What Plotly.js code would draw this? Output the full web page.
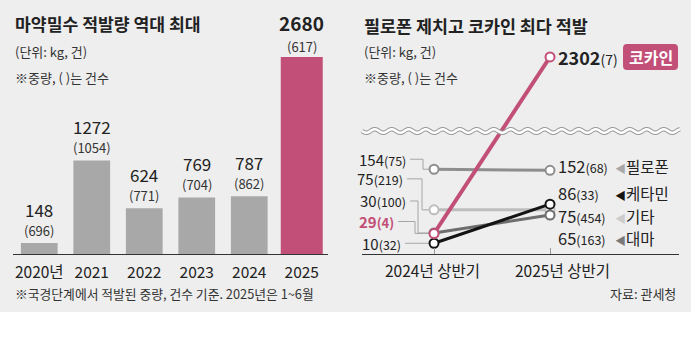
<!DOCTYPE html>
<html><head><meta charset="utf-8">
<script src="https://cdn.plot.ly/plotly-3.0.1.min.js"></script>
<style>html,body{margin:0;padding:0;background:#fff}</style>
</head><body><div id="chart" style="width:691px;height:351px"></div>
<script>
// ---- Left chart data: 마약밀수 적발량 ----
const years = ['2020년', '2021', '2022', '2023', '2024', '2025'];
const seizureKg = [148, 1272, 624, 769, 787, 2680];
const seizureCases = [696, 1054, 771, 704, 862, 617];

// ---- Right chart data: 품목별 적발 ----
const periods = ['2024년 상반기', '2025년 상반기'];
const drugs = ['필로폰', '기타', '대마', '케타민', '코카인'];
const kg2024 = [154, 75, 30, 10, 29];
const kg2025 = [152, 75, 65, 86, 2302];
const cases2024 = [75, 219, 100, 32, 4];
const cases2025 = [68, 454, 163, 33, 7];

// ---- styles / layout helpers ----
const FONT = 'Noto Sans CJK KR, Noto Sans, sans-serif';
const W = 691, H = 351;
const px = x => x / W;
const py = y => 1 - y / H;
const PINK = '#c24f77', GRAY = '#a8a8a8', BG = '#eeeeee', TXT = '#222222';

// broken axis for the right chart: values above BREAK are compressed
const BREAK = 220, UPPER_K = 0.0732;
const brk = v => v <= BREAK ? v : BREAK + (v - BREAK) * UPPER_K;

// per-drug styles, order: 필로폰, 기타, 대마, 케타민, 코카인
const drugColors = ['#8e8e8e', '#bdbdbd', '#6e6e6e', '#141414', PINK];
const arrowColors = ['#a8a8a8', '#cccccc', '#7a7a7a', '#141414', null];
const lineWidths = [3, 3, 3, 3, 4];
const leftDx = [-27, -30, -27, -32, -39];
const leftDy = [10, 31, 32, 0, 12];
const elbowDx = [-11, -12, -16, null, -19];
const rightDy = [4, -6, -23, 11, 0];

const hi = years.length - 1;
const traces = [{
  type: 'bar', x: years, y: seizureKg, xaxis: 'x', yaxis: 'y',
  marker: {color: years.map((_, i) => i === hi ? PINK : GRAY)},
  width: years.map((_, i) => i === hi ? 0.8 : 0.7),
  hoverinfo: 'skip'
}];
drugs.forEach((d, i) => traces.push({
  type: 'scatter', mode: 'lines+markers', name: d,
  x: periods, y: [brk(kg2024[i]), brk(kg2025[i])], xaxis: 'x2', yaxis: 'y2',
  line: {color: drugColors[i], width: lineWidths[i]},
  marker: {symbol: 'circle', size: 9, color: '#ffffff', line: {color: drugColors[i], width: 2}},
  cliponaxis: false, hoverinfo: 'skip'
}));

const ann = [];
const paperText = (text, x, y, size, opts = {}) => ann.push(Object.assign({
  text, xref: 'paper', yref: 'paper', x: px(x), y: py(y), xanchor: 'left', yanchor: 'middle',
  showarrow: false, font: {family: FONT, size, color: TXT}
}, opts));

// titles & notes
paperText('<b>마약밀수 적발량 역대 최대</b>', 13, 24, 17.2);
paperText('(단위: kg, 건)', 13, 51, 13, {font: {family: FONT, size: 13, color: '#333'}});
paperText('※중량, ( )는 건수', 13, 77, 13, {font: {family: FONT, size: 13, color: '#333'}});
paperText('<b>필로폰 제치고 코카인 최다 적발</b>', 362, 25, 17.4);
paperText('(단위: kg, 건)', 362, 51, 13, {font: {family: FONT, size: 13, color: '#333'}});
paperText('※중량, ( )는 건수', 362, 77, 13, {font: {family: FONT, size: 13, color: '#333'}});
paperText('※국경단계에서 적발된 중량, 건수 기준. 2025년은 1~6월', 13, 293, 12.8, {font: {family: FONT, size: 12.8, color: '#333'}});
paperText('자료: 관세청', 678, 293, 13, {xanchor: 'right', font: {family: FONT, size: 13, color: '#333'}});

// bar labels (x given as category index so numeric-looking names are not misread)
years.forEach((yr, i) => {
  ann.push({xref: 'x', yref: 'y', x: i, y: seizureKg[i], yanchor: 'middle', showarrow: false,
    yshift: i === hi ? 35 : 34,
    text: i === hi ? '<b>' + seizureKg[i] + '</b>' : String(seizureKg[i]),
    font: {family: FONT, size: i === hi ? 19 : 17, color: TXT}});
  ann.push({xref: 'x', yref: 'y', x: i, y: seizureKg[i], yanchor: 'middle', showarrow: false,
    yshift: i === hi ? 11 : 13, text: '(' + seizureCases[i] + ')',
    font: {family: FONT, size: 13, color: '#333'}});
});

// right x labels
const xLabShift = [-2, 12];
periods.forEach((p, i) => ann.push({xref: 'x2', yref: 'paper', x: i, y: py(270), yanchor: 'middle',
  xshift: xLabShift[i], showarrow: false, text: p, font: {family: FONT, size: 15.5, color: TXT}}));

const shapes = [{
  type: 'rect', xref: 'paper', yref: 'paper', x0: 0, x1: 1, y0: py(312), y1: 1,
  fillcolor: BG, line: {width: 0}, layer: 'below'
}];

drugs.forEach((d, i) => {
  const coc = i === drugs.length - 1;
  // left (2024) labels
  ann.push({xref: 'x2', yref: 'y2', x: 0, y: brk(kg2024[i]), xanchor: 'right', yanchor: 'middle',
    xshift: leftDx[i], yshift: leftDy[i], showarrow: false, borderpad: 0,
    text: coc ? `<b><span style="font-size:15px">${kg2024[i]}</span><span style="font-size:13px">(${cases2024[i]})</span></b>`
              : `<span style="font-size:15px">${kg2024[i]}</span><span style="font-size:12.5px">(${cases2024[i]})</span>`,
    font: {family: FONT, size: 15, color: coc ? PINK : TXT}});
  // leader lines
  const sx = leftDx[i] + 3;
  const path = elbowDx[i] === null ? `M${sx},${leftDy[i]} L0,0`
    : `M${sx},${leftDy[i]} L${elbowDx[i]},${leftDy[i]} L${elbowDx[i]},0 L0,0`;
  shapes.push({type: 'path', xref: 'x2', yref: 'y2', xsizemode: 'pixel', ysizemode: 'pixel',
    xanchor: 0, yanchor: brk(kg2024[i]), path, line: {color: '#a6a6a6', width: 1}, layer: 'below'});
  // right (2025) labels
  ann.push({xref: 'x2', yref: 'y2', x: 1, y: brk(kg2025[i]), xanchor: 'left', yanchor: 'middle',
    xshift: 7, yshift: rightDy[i], showarrow: false, borderpad: 0,
    text: coc ? `<b><span style="font-size:18px">${kg2025[i]}</span></b><span style="font-size:14px">(${cases2025[i]})</span>`
              : `<span style="font-size:16.5px">${kg2025[i]}</span><span style="font-size:12.5px">(${cases2025[i]})</span>`,
    font: {family: FONT, size: 16.5, color: TXT}});
  if (coc) {
    shapes.push({type: 'path', xref: 'x2', yref: 'y2', xsizemode: 'pixel', ysizemode: 'pixel',
      xanchor: 1, yanchor: brk(kg2025[i]),
      path: 'M77,13 L124,13 Q128,13 128,9 L128,-9 Q128,-13 124,-13 L77,-13 Q73,-13 73,-9 L73,9 Q73,13 77,13 Z',
      fillcolor: PINK, line: {width: 0}, layer: 'above'});
    ann.push({xref: 'x2', yref: 'y2', x: 1, y: brk(kg2025[i]), xanchor: 'center', yanchor: 'middle',
      xshift: 100.5, showarrow: false, text: '<b>' + d + '</b>', font: {family: FONT, size: 16, color: '#ffffff'}});
  } else {
    ann.push({xref: 'x2', yref: 'y2', x: 1, y: brk(kg2025[i]), xanchor: 'left', yanchor: 'middle',
      xshift: 64, yshift: rightDy[i], showarrow: false, borderpad: 0,
      text: `<span style="font-size:11px;color:${arrowColors[i]}">◀</span>${d}`,
      font: {family: FONT, size: 15.5, color: TXT}});
  }
});

// wavy break line
let wave = '';
for (let x = 362; x <= 680; x += 1) {
  const y = 131 + 1.8 * Math.sin(2 * Math.PI * (x - 362) / 17);
  wave += (x === 362 ? 'M' : 'L') + px(x).toFixed(5) + ',' + py(y).toFixed(5);
}
shapes.push({type: 'path', xref: 'paper', yref: 'paper', path: wave, line: {color: '#9a9a9a', width: 4.5}, layer: 'above'});
shapes.push({type: 'path', xref: 'paper', yref: 'paper', path: wave, line: {color: '#ffffff', width: 2.5}, layer: 'above'});

const layout = {
  width: W, height: H, margin: {l: 0, r: 0, t: 0, b: 0},
  paper_bgcolor: '#ffffff', plot_bgcolor: 'rgba(0,0,0,0)',
  showlegend: false, font: {family: FONT, color: TXT},
  xaxis: {domain: [px(13), px(328)], type: 'category', range: [-0.5, 5.5], anchor: 'y',
    showline: true, linecolor: '#333', linewidth: 1, ticks: '', showgrid: false, zeroline: false,
    tickfont: {family: FONT, size: 15.5, color: TXT}, ticklabelstandoff: 4, fixedrange: true},
  yaxis: {domain: [py(254), py(20)], range: [0, 3184], visible: false, fixedrange: true, anchor: 'x'},
  xaxis2: {domain: [px(362), px(679)], type: 'category', range: [-0.621, 2.112], anchor: 'y2',
    showline: true, linecolor: '#333', linewidth: 1, ticks: 'inside', ticklen: 6, tickcolor: '#999',
    showticklabels: false, showgrid: false, zeroline: false, fixedrange: true},
  yaxis2: {domain: [py(254), py(20)], range: [-10.9, 444.35], visible: false, fixedrange: true, anchor: 'x2'},
  annotations: ann, shapes: shapes
};
Plotly.newPlot('chart', traces, layout, {displayModeBar: false, staticPlot: true});
</script></body></html>
